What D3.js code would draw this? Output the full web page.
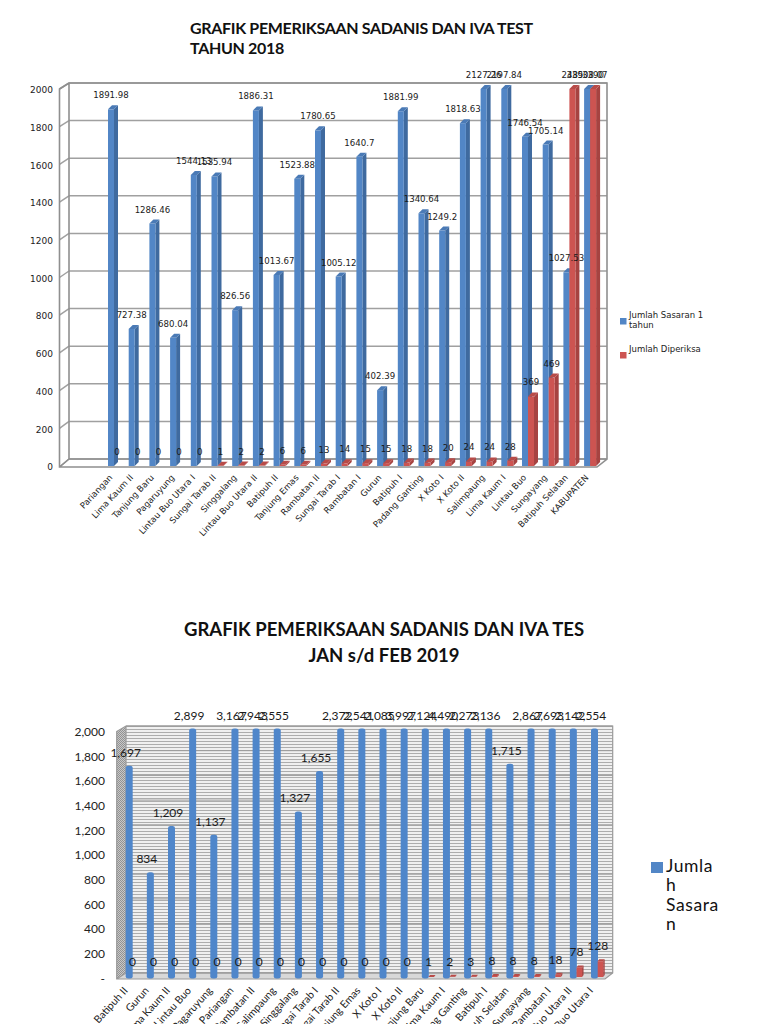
<!DOCTYPE html>
<html><head><meta charset="utf-8">
<script src="https://cdn.jsdelivr.net/npm/d3@7"></script>
<style>html,body{margin:0;padding:0;background:#fff;overflow:hidden}svg{display:block}</style>
</head><body><svg id="c" width="768" height="1024"></svg>
<script>
const categories2018 = ["Pariangan","Lima Kaum II","Tanjung Baru","Pagaruyung","Lintau Buo Utara I","Sungai Tarab II","Singgalang","Lintau Buo Utara II","Batipuh II","Tanjung Emas","Rambatan II","Sungai Tarab I","Rambatan I","Gurun","Batipuh I","Padang Ganting","X Koto I","X Koto II","Salimpaung","Lima Kaum I","Lintau Buo","Sungayang","Batipuh Selatan","KABUPATEN"];
const sasaran2018 = [1891.98,727.38,1286.46,680.04,1544.13,1535.94,826.56,1886.31,1013.67,1523.88,1780.65,1005.12,1640.7,402.39,1881.99,1340.64,1249.2,1818.63,2127.26,2197.84,1746.54,1705.14,1027.53,33908.07];
const diperiksa2018 = [0,0,0,0,0,1,2,2,6,6,13,14,15,15,18,18,20,24,24,28,369,469,2485,3390];
const ticks2018 = [0,200,400,600,800,1000,1200,1400,1600,1800,2000];
const categories2019 = ["Batipuh II","Gurun","Lima Kaum II","Lintau Buo","Pagaruyung","Pariangan","Rambatan II","Salimpaung","Singgalang","Sungai Tarab I","Sungai Tarab II","Tanjung Emas","X Koto I","X Koto II","Tanjung Baru","Lima Kaum I","Padang Ganting","Batipuh I","Batipuh Selatan","Sungayang","Rambatan I","Lintau Buo Utara II","Lintau Buo Utara I"];
const sasaran2019 = [1697,834,1209,2899,1137,3167,2943,2555,1327,1655,2372,2541,2085,3997,2124,4490,2273,2136,1715,2867,2693,2142,2554];
const diperiksa2019 = [0,0,0,0,0,0,0,0,0,0,0,0,0,0,1,2,3,8,8,8,18,78,128];
const ticks2019 = [0,200,400,600,800,1000,1200,1400,1600,1800,2000];
const titles2018 = ["GRAFIK PEMERIKSAAN SADANIS DAN IVA TEST","TAHUN 2018"];
const titles2019 = ["GRAFIK PEMERIKSAAN SADANIS DAN IVA TES","JAN s/d FEB 2019"];
const legend2018 = [["Jumlah Sasaran 1","tahun"],["Jumlah Diperiksa"]];
const legend2019 = ["Jumla","h","Sasara","n"];

const svg = d3.select("#c");
const defs = svg.append("defs");
const stripe = defs.append("pattern").attr("id","stripe").attr("width",4).attr("height",3).attr("patternUnits","userSpaceOnUse");
stripe.append("rect").attr("width",4).attr("height",3).attr("fill","#f0f0f0");
stripe.append("rect").attr("width",4).attr("height",1).attr("fill","#adadad");
const sideP = defs.append("pattern").attr("id","sideHatch").attr("width",2).attr("height",2).attr("patternUnits","userSpaceOnUse");
sideP.append("rect").attr("width",2).attr("height",2).attr("fill","#c8c8c8");
sideP.append("rect").attr("width",1).attr("height",1).attr("fill","#929292");
sideP.append("rect").attr("x",1).attr("y",1).attr("width",1).attr("height",1).attr("fill","#929292");

const BLUE = {front:"#5286c6",side:"#3f6a9f",top:"#4a7ab6"};
const RED  = {front:"#cd5451",side:"#a64341",top:"#b84b48"};

function poly(points){ return d3.line()(points)+"Z"; }

function box(g,x,w,yTop,yBase,dx,dy,col){
  g.append("path").attr("d",poly([[x+w,yBase],[x+w+dx,yBase-dy],[x+w+dx,yTop-dy],[x+w,yTop]])).attr("fill",col.side);
  g.append("rect").attr("x",x).attr("y",yTop).attr("width",w).attr("height",Math.max(0,yBase-yTop)).attr("fill",col.front);
  g.append("path").attr("d",poly([[x,yTop],[x+w,yTop],[x+w+dx,yTop-dy],[x+dx,yTop-dy]])).attr("fill",col.top);
}

function chart(o){
  const g = svg.append("g");
  const y = d3.scaleLinear().domain([0,2000]).range([o.fb,o.ft]).clamp(true);
  const yBack = d3.scaleLinear().domain([0,2000]).range([o.bb,o.bt]);
  const x = d3.scaleBand().domain(o.cats).range(o.xr);

  // walls
  if(o.hatch){
    g.append("rect").attr("x",o.bl).attr("y",o.bt).attr("width",o.br-o.bl).attr("height",o.bb-o.bt).attr("fill","url(#stripe)");
    g.append("path").attr("d",poly([[o.fl,o.ftEdge],[o.bl,o.bt],[o.bl,o.bb],[o.fl,o.fb2]])).attr("fill","url(#sideHatch)");
    g.append("path").attr("d",poly([[o.fl,o.fb2],[o.bl,o.bb],[o.br,o.bb],[o.fr,o.fb2]])).attr("fill","#d8d8d8");
  }
  // gridlines
  g.append("g").selectAll("line").data(o.ticks).join("line")
    .attr("x1",o.bl).attr("x2",o.br).attr("y1",d=>yBack(d)).attr("y2",d=>yBack(d))
    .attr("stroke",o.gridCol).attr("stroke-width",o.gridW);
  if(!o.hatch){
    g.append("g").selectAll("line").data(o.ticks).join("line")
      .attr("x1",o.fl).attr("x2",o.bl).attr("y1",d=>y(d)+ (d===0?1:0)).attr("y2",d=>yBack(d))
      .attr("stroke",o.gridCol).attr("stroke-width",o.gridW);
  }
  g.append("path").attr("fill","none").attr("stroke",o.edgeCol).attr("stroke-width",o.edgeW)
    .attr("d",`M${o.fl},${o.ftEdge}L${o.bl},${o.bt}L${o.br},${o.bt}L${o.br},${o.bb}L${o.fr},${o.fb2}L${o.fl},${o.fb2}Z M${o.bl},${o.bt}L${o.bl},${o.bb}L${o.br},${o.bb} M${o.bl},${o.bb}L${o.fl},${o.fb2}`);

  // bars
  const bars = g.append("g");
  o.cats.forEach((c,i)=>{
    const x0 = x(c)+o.pad;
    if(o.round){
      const t = y(o.blue[i]);
      bars.append("rect").attr("x",x0).attr("y",t-2).attr("width",o.w+o.dx).attr("height",o.barBase+1.5-t+2)
        .attr("rx",2.5).attr("ry",2).attr("fill",o.round);
    } else {
      box(bars,x0,o.w,y(o.blue[i]),o.barBase,o.dx,o.dy,BLUE);
    }
    if(o.red[i]>0) box(bars,x0+o.off,o.w,y(o.red[i]),o.barBase,o.dx,o.dy,RED);
  });

  // axis labels
  const yAxis = g.append("g").attr("transform",`translate(${o.axisX},0)`)
    .call(d3.axisLeft(y).tickValues(o.ticks).tickSize(0).tickPadding(0).tickFormat(o.tickFmt));
  yAxis.select(".domain").remove();
  yAxis.selectAll("text").attr("font-family",o.axisFont).attr("font-size",o.axisSize).attr("fill","#222").attr("dy","0.42em");

  const xAxis = g.append("g").attr("transform",`translate(0,${o.fb})`)
    .call(d3.axisBottom(x).tickSize(0));
  xAxis.select(".domain").remove();
  xAxis.selectAll("text")
    .attr("font-family",o.catFont).attr("font-size",o.catSize).attr("fill","#222")
    .attr("text-anchor","end").attr("dy",0).attr("y",0).attr("x",0)
    .attr("transform",`translate(${o.catDx},${o.catDy}) rotate(${o.catRot})`);

  // data labels
  const lab = g.append("g").attr("font-family",o.labFont).attr("font-size",o.labSize).attr("fill","#1a1a1a").attr("text-anchor","middle");
  o.cats.forEach((c,i)=>{
    const x0 = x(c)+o.pad;
    lab.append("text").attr("x",x0+o.labDx).attr("y",y(o.blue[i])-o.labUp).text(o.fmt(o.blue[i]));
    lab.append("text").attr("x",x0+o.off+o.labDx).attr("y",y(o.red[i])-o.labUp).text(o.fmt(o.red[i]));
  });
}

// 2018
chart({cats:categories2018,blue:sasaran2018,red:diperiksa2018,ticks:ticks2018,
  fb:466,ft:89,bb:459,bt:83,fl:59.5,fr:597,bl:69,br:607,ftEdge:89,fb2:467,
  barBase:466,xr:[105.6,602.4],pad:2.4,w:6,off:6,dx:4,dy:4,
  gridCol:"#a0a0a0",gridW:1.5,edgeCol:"#8f8f8f",edgeW:1.6,hatch:false,
  axisX:53,axisFont:"DejaVu Sans",axisSize:9,tickFmt:d=>String(d),
  catFont:"DejaVu Sans",catSize:8.6,catDx:-3,catDy:12,catRot:-47,
  labFont:"DejaVu Sans",labSize:8.6,labDx:3,labUp:11,fmt:d=>String(d)});

// 2019
chart({cats:categories2019,blue:sasaran2019,red:diperiksa2019,ticks:ticks2019,
  fb:977,ft:730.5,bb:973,bt:726,fl:116.7,fr:605,bl:126,br:612.7,ftEdge:731.5,fb2:979,
  barBase:977,xr:[121.8,608.25],pad:3.9,w:5.5,off:6.7,dx:1.5,dy:2,round:"#4f86ca",
  gridCol:"#9a9a9a",gridW:1,edgeCol:"#9a9a9a",edgeW:1.2,hatch:true,
  axisX:105,axisFont:"Lato",axisSize:12,tickFmt:d=>d===0?"-":d3.format(",")(d),
  catFont:"Lato",catSize:10.5,catDx:-4,catDy:14,catRot:-48,
  labFont:"Lato",labSize:12,labDx:0,labUp:11,fmt:d=>d3.format(",")(d)});

// titles
svg.append("g").attr("font-family","Lato").attr("font-weight",700).attr("font-size",16).attr("letter-spacing",-0.33).attr("fill","#111")
  .selectAll("text").data(titles2018).join("text").attr("x",190).attr("y",(d,i)=>34+i*20).text(d=>d);
svg.append("g").attr("font-family","Lato").attr("font-weight",700).attr("font-size",18.5).attr("fill","#111").attr("text-anchor","middle")
  .selectAll("text").data(titles2019).join("text").attr("x",384).attr("y",(d,i)=>636+i*26).text(d=>d);

// legends
const l1 = svg.append("g").attr("font-family","DejaVu Sans").attr("font-size",8.5).attr("fill","#222");
l1.append("rect").attr("x",620).attr("y",318).attr("width",6.5).attr("height",6.5).attr("fill",BLUE.front);
l1.append("rect").attr("x",620).attr("y",352).attr("width",6.5).attr("height",6.5).attr("fill",RED.front);
legend2018[0].forEach((t,i)=>l1.append("text").attr("x",629).attr("y",318+i*10).text(t));
legend2018[1].forEach((t,i)=>l1.append("text").attr("x",629).attr("y",352+i*10).text(t));
const l2 = svg.append("g").attr("font-family","Lato").attr("font-size",17.5).attr("fill","#111");
l2.append("rect").attr("x",651).attr("y",862).attr("width",12).attr("height",11).attr("fill",BLUE.front);
legend2019.forEach((t,i)=>l2.append("text").attr("x",666).attr("y",872+i*19.4).attr("letter-spacing",0.6).text(t));
</script></body></html>
